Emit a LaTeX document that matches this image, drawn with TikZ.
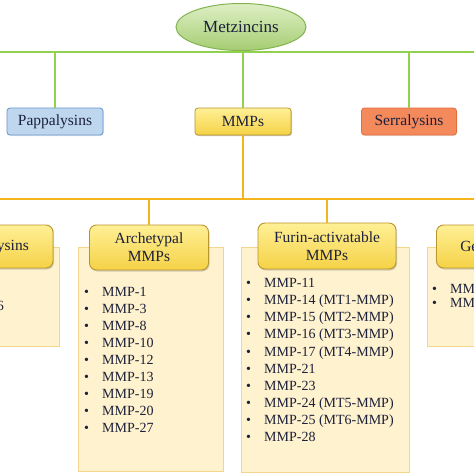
\documentclass[tikz,border=0pt]{standalone}
\usepackage{fontspec}
\setmainfont{Liberation Serif}
\usetikzlibrary{shapes.geometric,shadows}
\definecolor{txt}{RGB}{28,32,58}
\definecolor{gline}{RGB}{146,208,80}
\definecolor{oline}{RGB}{244,180,30}
\definecolor{gtop}{RGB}{222,239,196}
\definecolor{gbot}{RGB}{165,205,115}
\definecolor{gbord}{RGB}{130,180,80}
\definecolor{bfill}{RGB}{190,215,238}
\definecolor{bbord}{RGB}{100,150,205}
\definecolor{ofill}{RGB}{244,137,92}
\definecolor{obord}{RGB}{225,110,60}
\definecolor{ytop}{RGB}{255,240,150}
\definecolor{ybot}{RGB}{245,210,70}
\definecolor{ybord}{RGB}{185,150,45}
\definecolor{cfill}{RGB}{255,242,206}
\definecolor{cbord}{RGB}{246,214,140}
\newcommand{\itm}[1]{\makebox[18pt][l]{•}#1}
\begin{document}
\begin{tikzpicture}[x=1pt,y=-1pt,
  every node/.style={text=txt},
  topbox/.style={rectangle, rounded corners=3pt, inner sep=0pt, line width=0.8pt,
     minimum height=27pt, font=\fontsize{15.5}{18}\selectfont,
     drop shadow={shadow xshift=0.8pt, shadow yshift=-1pt, opacity=0.2}},
  hdr/.style={rectangle, rounded corners=7pt, inner sep=0pt, line width=0.9pt,
     draw=ybord, top color=ytop, bottom color=ybot, align=center,
     drop shadow={shadow xshift=1pt, shadow yshift=-1.5pt, opacity=0.35},
     font=\fontsize{15.5}{18}\selectfont},
  content/.style={rectangle, inner sep=0pt, draw=cbord, fill=cfill, line width=0.9pt},
  itemtxt/.style={inner sep=0pt, anchor=base west, font=\fontsize{14}{17}\selectfont},
  gconn/.style={draw=gline, line width=1.8pt},
  oconn/.style={draw=oline, line width=1.8pt}
]
\useasboundingbox (0,0) rectangle (474,474);
\clip (0,0) rectangle (474,474);
\fill[white] (0,0) rectangle (474,474);

% top level
\coordinate (gL) at (0,52);
\coordinate (gR) at (474,52);
\coordinate (g1) at (55,52);
\coordinate (g2) at (243,52);
\coordinate (g3) at (409,52);
\draw[gconn] (gL) -- (gR);
\node[ellipse, minimum width=130pt, minimum height=47pt, inner sep=0pt,
      draw=gbord, line width=1pt, top color=gtop, bottom color=gbot,
      font=\fontsize{17}{20}\selectfont] (met) at (241,27) {Metzincins};

\node[topbox, draw=bbord, fill=bfill, minimum width=96pt] (pap) at (55,121.5) {Pappalysins};
\node[topbox, draw=ybord, top color=ytop, bottom color=ybot, minimum width=96pt,
      drop shadow={shadow xshift=1pt, shadow yshift=-1.2pt, opacity=0.3}] (mmp) at (243,121.5) {MMPs};
\node[topbox, draw=obord, fill=ofill, minimum width=95pt] (ser) at (409,121.5) {Serralysins};

\draw[gconn] (g1) -- (pap.north);
\draw[gconn] (g2) -- (mmp.north);
\draw[gconn] (g3) -- (ser.north);

% second level bus
\coordinate (oL) at (0,199);
\coordinate (oR) at (474,199);
\coordinate (o0) at (243,199);
\coordinate (o1) at (149,199);
\coordinate (o2) at (327,199);
\draw[oconn] (mmp.south) -- (o0);
\draw[oconn] (oL) -- (oR);

% content boxes
\node[content, minimum width=149pt, minimum height=99pt] (mac) at (-15.5,296.5) {};
\node[content, minimum width=145pt, minimum height=224pt] (arc) at (150.5,359) {};
\node[content, minimum width=168pt, minimum height=225pt] (fuc) at (325,359.5) {};
\node[content, minimum width=150pt, minimum height=99pt] (gec) at (502,296.5) {};

% headers
\node[hdr, minimum width=119pt, minimum height=43pt] (maH) at (-6.5,246.5) {Matrilysins};
\node[hdr, minimum width=119pt, minimum height=45pt] (arH) at (149,247.5) {Archetypal\\MMPs};
\node[hdr, minimum width=138pt, minimum height=46pt] (fuH) at (327,246) {Furin-activatable\\MMPs};
\node[hdr, minimum width=119pt, minimum height=43pt] (geH) at (496,246.5) {Gelatinases};

\draw[oconn] (o1) -- (arH.north);
\draw[oconn] (o2) -- (fuH.north);

% items
\node[itemtxt, anchor=base east] (ma1) at (-4,293.6) {\itm{MMP-7}};
\node[itemtxt, anchor=base east] (ma2) at (4,310.6) {\itm{MMP-26}};

\foreach \t [count=\i] in {MMP-1,MMP-3,MMP-8,MMP-10,MMP-12,MMP-13,MMP-19,MMP-20,MMP-27}
  \node[itemtxt] (ar\i) at (84,{296.6+17*(\i-1)}) {\itm{\t}};

\foreach \t [count=\i] in {MMP-11,MMP-14 (MT1-MMP),MMP-15 (MT2-MMP),MMP-16 (MT3-MMP),MMP-17 (MT4-MMP),MMP-21,MMP-23,MMP-24 (MT5-MMP),MMP-25 (MT6-MMP),MMP-28}
  \node[itemtxt] (fu\i) at (246,{287.6+17.1*(\i-1)}) {\itm{\t}};

\node[itemtxt] (ge1) at (432,293.6) {\itm{MMP-2}};
\node[itemtxt] (ge2) at (432,307.6) {\itm{MMP-9}};
\end{tikzpicture}
\end{document}
